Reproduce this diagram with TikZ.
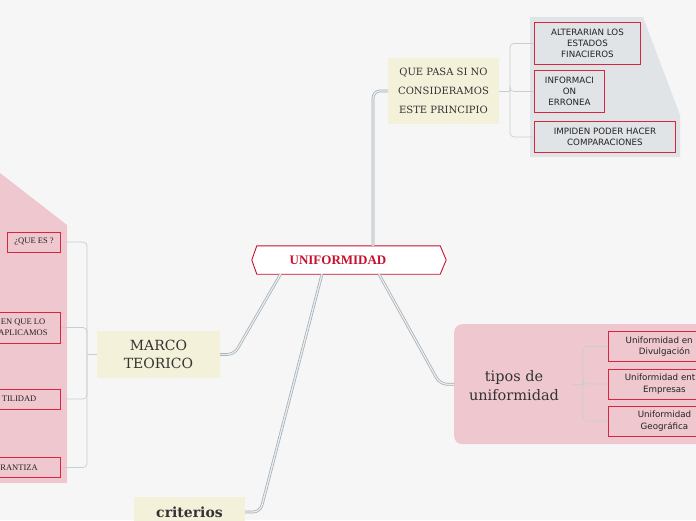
\documentclass[tikz,border=0pt]{standalone}
\usepackage{fontspec}
\setmainfont{Liberation Serif}
\newfontfamily\topicfont{DejaVu Serif}
\newfontfamily\boxfont{DejaVu Sans}

\definecolor{pagebg}{HTML}{F6F6F6}
\definecolor{beige}{HTML}{F4F1DA}
\definecolor{pinkpanel}{HTML}{EFC8CF}
\definecolor{greypanel}{HTML}{E1E4E7}
\definecolor{boxred}{HTML}{D7263D}
\definecolor{unired}{HTML}{C8102E}
\definecolor{branchgrey}{HTML}{A2ADB4}
\definecolor{branchlight}{HTML}{E9EDEF}
\definecolor{bracketgrey}{HTML}{C6CED3}
\definecolor{topictext}{HTML}{333333}
\definecolor{boxtext}{HTML}{222222}

\tikzset{
    topicbox/.style={fill=beige, text=topictext, align=center, inner sep=0pt},
    redbox/.style={draw=boxred, line width=0.9pt, text=boxtext, align=center, inner xsep=2pt, inner ysep=1pt},
    branch/.style={draw=branchgrey, line width=0.7pt, double=branchlight, double distance=1.3pt, rounded corners=7pt},
    bracket/.style={draw=bracketgrey, line width=0.7pt, rounded corners=4pt}
}

\begin{document}
\begin{tikzpicture}[x=1pt,y=-1pt]

\useasboundingbox (0,0) rectangle (696,520);
\clip (0,0) rectangle (696,520);

% Page background
\fill[pagebg] (0,0) rectangle (696,520);

% =====================================================
% PANELS BEHIND THE CHILD GROUPS
% =====================================================
\fill[greypanel] (530,17) -- (643,17) -- (680,115) -- (680,157) -- (530,157) -- cycle;
\fill[pinkpanel] (0,173) -- (67,225) -- (67,483) -- (0,483) -- cycle;
\node[fill=pinkpanel, rounded corners=8pt, minimum width=260pt, minimum height=120pt,
      anchor=north west, inner sep=0pt] (tiposbox) at (454,324) {};

% =====================================================
% CENTRAL TOPIC
% =====================================================
\node[minimum width=183pt, minimum height=28pt, inner sep=0pt] (uni) at (348.5,260) {};
\draw[draw=unired, fill=white, line width=0.9pt]
    (uni.north west) -- (uni.north east) -- ([xshift=6pt]uni.east)
    -- (uni.south east) -- (uni.south west) -- ([xshift=-5pt]uni.west) -- cycle;
\node[text=unired, font=\bfseries\fontsize{13}{15}\selectfont] (unilabel)
    at ([xshift=-10.5pt]uni.center) {UNIFORMIDAD};

% =====================================================
% MAIN TOPICS
% =====================================================
\node[topicbox, minimum width=111pt, minimum height=66pt,
      font=\topicfont\fontsize{10}{19}\selectfont] (que) at (443.5,91)
    {QUE PASA SI NO\\CONSIDERAMOS\\ESTE PRINCIPIO};

\node[topicbox, minimum width=123pt, minimum height=47pt,
      font=\topicfont\fontsize{14}{18}\selectfont] (marco) at (158.5,354.5)
    {MARCO\\TEORICO};

\node[topicbox, minimum width=111pt, minimum height=30pt,
      font=\topicfont\bfseries\fontsize{14}{16}\selectfont] (crit) at (189.5,512)
    {criterios};

\node[text=topictext, align=center, inner sep=0pt,
      font=\topicfont\fontsize{14.5}{19}\selectfont] (tipos) at (514,386)
    {tipos de\\uniformidad};

% =====================================================
% BRANCHES FROM THE CENTRE
% =====================================================
\draw[branch] ([xshift=24.5pt]uni.north) |- (que.west);
\draw[branch] ([xshift=-68pt]uni.south) -- ([xshift=14pt]marco.east) -- (marco.east);
\draw[branch] ([xshift=-26.5pt]uni.south) -- ([xshift=15pt]crit.east) -- (crit.east);
\draw[branch] ([xshift=30.5pt]uni.south) -- ([xshift=-14pt]tiposbox.west) -- (tiposbox.west);

% =====================================================
% QUE PASA SI NO ... CHILDREN
% =====================================================
\begin{scope}[every node/.append style={font=\boxfont\fontsize{8.7}{11}\selectfont}]
    \node[redbox, fill=greypanel, anchor=north west, minimum width=106pt, minimum height=42pt]
        (alt) at (534,22) {ALTERARIAN LOS\\ESTADOS\\FINACIEROS};
    \node[redbox, fill=greypanel, anchor=north west, minimum width=70pt, minimum height=42pt]
        (info) at (534,70) {INFORMACI\\ON\\ERRONEA};
    \node[redbox, fill=greypanel, anchor=north west, minimum width=141pt, minimum height=31pt]
        (imp) at (534,121) {IMPIDEN PODER HACER\\COMPARACIONES};
\end{scope}

\coordinate (qj) at (510,91);
\draw[bracket] (que.east) -- (qj);
\foreach \nm in {alt,info,imp} {
    \draw[bracket] (qj) |- (\nm.west);
}

% =====================================================
% MARCO TEORICO CHILDREN
% =====================================================
\begin{scope}[every node/.append style={font=\fontsize{8.5}{11}\selectfont}]
    \node[redbox, fill=pinkpanel, anchor=east, minimum width=53pt, minimum height=20pt]
        (quees) at (61,242) {¿QUE ES ?};
    \node[redbox, fill=pinkpanel, anchor=east, minimum width=75pt, minimum height=31pt]
        (aplic) at (61,327.5) {EN QUE LO\\APLICAMOS};
    \node[redbox, fill=pinkpanel, anchor=east, minimum width=83pt, minimum height=20pt]
        (util) at (61,399) {TILIDAD};
    \node[redbox, fill=pinkpanel, anchor=east, minimum width=83pt, minimum height=20pt]
        (garant) at (61,467.5) {RANTIZA};
\end{scope}

\coordinate (mj) at (87,354.5);
\draw[bracket] (marco.west) -- (mj);
\foreach \nm in {quees,aplic,util,garant} {
    \draw[bracket] (mj) |- (\nm.east);
}

% =====================================================
% TIPOS DE UNIFORMIDAD CHILDREN
% =====================================================
\foreach \nm/\yy/\txt in {divul/346.5/{Uniformidad en la\\Divulgación},
                          emp/384/{Uniformidad entre\\Empresas},
                          geo/421/{Uniformidad\\Geográfica}} {
    \node[redbox, fill=pinkpanel, anchor=west, minimum width=112pt, minimum height=30pt,
          font=\boxfont\fontsize{8.7}{11.5}\selectfont] (\nm) at (608,\yy) {\txt};
}

\coordinate (tstub) at (573,384);
\coordinate (tj) at (583,384);
\draw[bracket] (tstub) -- (tj);
\foreach \nm in {divul,emp,geo} {
    \draw[bracket] (tj) |- (\nm.west);
}

\end{tikzpicture}
\end{document}
